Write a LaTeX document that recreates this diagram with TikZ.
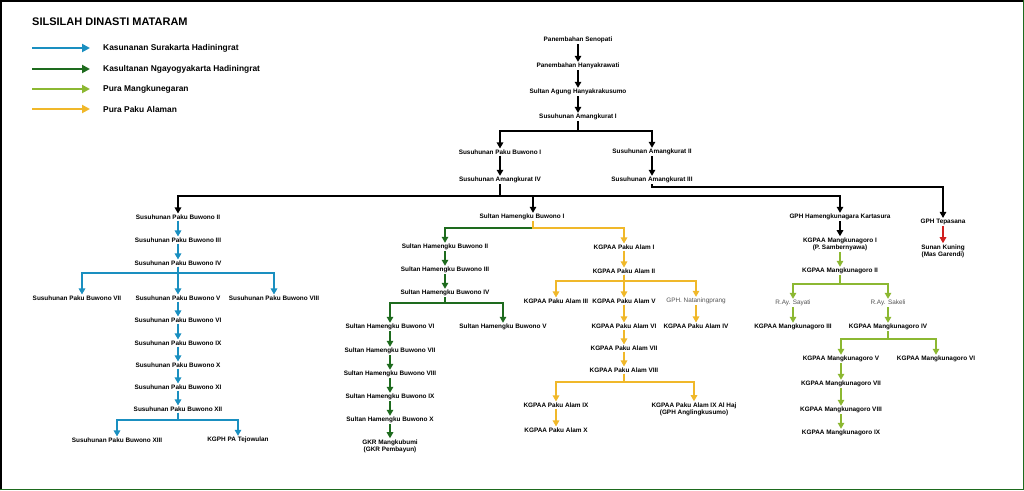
\documentclass[tikz,border=0pt]{standalone}
\usepackage{fontspec}
\setmainfont{Liberation Sans}
\usetikzlibrary{arrows.meta}
\definecolor{cblue}{HTML}{1A8FC0}
\definecolor{cdg}{HTML}{1E6B1E}
\definecolor{clg}{HTML}{8CB832}
\definecolor{cyl}{HTML}{F0B82A}
\definecolor{cred}{HTML}{D02020}
\definecolor{cgray}{HTML}{555555}
\begin{document}
\begin{tikzpicture}[x=1pt,y=-1pt,
  n/.style={font=\fontsize{6.4}{7.2}\selectfont\bfseries,align=center,inner sep=1pt},
  g/.style={font=\fontsize{6.4}{7.2}\selectfont,text=cgray,align=center,inner sep=1pt},
  ar/.style={line width=1.3pt,-{Triangle[width=6.5pt,length=6pt]}},
  bk/.style={ar,black}, bl/.style={ar,cblue}, dg/.style={ar,cdg}, lg/.style={ar,clg}, yl/.style={ar,cyl}, rd/.style={ar,cred},
  la/.style={line width=2pt,-{Triangle[width=8pt,length=8pt]}},
  lg0/.style={font=\fontsize{8.4}{9}\selectfont\bfseries,anchor=west,inner sep=0pt}]
\useasboundingbox (0,0) rectangle (1024,490);
\fill[white] (0,0) rectangle (1024,490);
\draw[black,line width=1.5pt] (0.75,490) -- (0.75,0.75) -- (1024,0.75);
\draw[cdg,line width=1.5pt] (1023.25,0) -- (1023.25,489.25) -- (0,489.25);
% legend
\node[font=\fontsize{11}{13}\selectfont\bfseries,anchor=west,inner sep=0pt] (title) at (32,22) {SILSILAH DINASTI MATARAM};
\coordinate (l1a) at (32,48); \coordinate (l1b) at (90,48);
\coordinate (l2a) at (32,69); \coordinate (l2b) at (90,69);
\coordinate (l3a) at (32,89); \coordinate (l3b) at (90,89);
\coordinate (l4a) at (32,109); \coordinate (l4b) at (90,109);
\draw[la,cblue] (l1a) -- (l1b); \draw[la,cdg] (l2a) -- (l2b); \draw[la,clg] (l3a) -- (l3b); \draw[la,cyl] (l4a) -- (l4b);
\node[lg0] (t1) at (103,48) {Kasunanan Surakarta Hadiningrat};
\node[lg0] (t2) at (103,69) {Kasultanan Ngayogyakarta Hadiningrat};
\node[lg0] (t3) at (103,89) {Pura Mangkunegaran};
\node[lg0] (t4) at (103,109) {Pura Paku Alaman};
% top
\node[n] (sen) at (578,40) {Panembahan Senopati};
\node[n] (han) at (578,66) {Panembahan Hanyakrawati};
\node[n] (sag) at (578,92) {Sultan Agung Hanyakrakusumo};
\node[n] (am1) at (578,117) {Susuhunan Amangkurat I};
\node[n] (pb1) at (500,152) {Susuhunan Paku Buwono I};
\node[n] (am2) at (652,152) {Susuhunan Amangkurat II};
\node[n] (am4) at (500,180) {Susuhunan Amangkurat IV};
\node[n] (am3) at (652,180) {Susuhunan Amangkurat III};
\draw[bk] (sen) -- (han); \draw[bk] (han) -- (sag); \draw[bk] (sag) -- (am1);
\draw[bk] (am1.south) -- (578,131) -| (pb1.north);
\draw[bk] (am1.south) -- (578,131) -| (am2.north);
\draw[bk] (pb1) -- (am4); \draw[bk] (am2) -- (am3);
% level
\node[n] (pb2) at (178,217) {Susuhunan Paku Buwono II};
\node[n] (hb1) at (522,217) {Sultan Hamengku Buwono I};
\node[n] (ghk) at (840,217) {GPH Hamengkunagara Kartasura};
\node[n] (tep) at (943,222) {GPH Tepasana};
\node[n] (sk) at (943,251) {Sunan Kuning\\(Mas Garendi)};
\draw[bk] (am4.south) -- (500,196) -| (pb2.north);
\draw[bk] (am4.south) -- (500,196) -| ([xshift=11pt]hb1.north);
\draw[bk] (am4.south) -- (500,196) -| (ghk.north);
\draw[bk] (am3.south) -- (652,187) -| (tep.north);
\draw[rd] (tep) -- (sk);
% Surakarta
\node[n] (pb3) at (178,240) {Susuhunan Paku Buwono III};
\node[n] (pb4) at (178,263) {Susuhunan Paku Buwono IV};
\node[n] (pb7) at (77,298) {Susuhunan Paku Buwono VII};
\node[n] (pb5) at (178,298) {Susuhunan Paku Buwono V};
\node[n] (pb8) at (274,298) {Susuhunan Paku Buwono VIII};
\node[n] (pb6) at (178,320) {Susuhunan Paku Buwono VI};
\node[n] (pb9) at (178,343) {Susuhunan Paku Buwono IX};
\node[n] (pb10) at (178,365) {Susuhunan Paku Buwono X};
\node[n] (pb11) at (178,387) {Susuhunan Paku Buwono XI};
\node[n] (pb12) at (178,409) {Susuhunan Paku Buwono XII};
\node[n] (pb13) at (117,440) {Susuhunan Paku Buwono XIII};
\node[n] (tej) at (238,440) {KGPH PA Tejowulan};
\draw[bl] (pb2) -- (pb3); \draw[bl] (pb3) -- (pb4);
\draw[bl] (pb4.south) -- (178,273) -| ([xshift=5pt]pb7.north);
\draw[bl] (pb4) -- (pb5);
\draw[bl] (pb4.south) -- (178,273) -| (pb8.north);
\draw[bl] (pb5) -- (pb6); \draw[bl] (pb6) -- (pb9); \draw[bl] (pb9) -- (pb10);
\draw[bl] (pb10) -- (pb11); \draw[bl] (pb11) -- (pb12);
\draw[bl] (pb12.south) -- (178,420) -| (pb13.north);
\draw[bl] (pb12.south) -- (178,420) -| (tej.north);
% Yogyakarta
\node[n] (hb2) at (445,247) {Sultan Hamengku Buwono II};
\node[n] (hb3) at (445,270) {Sultan Hamengku Buwono III};
\node[n] (hb4) at (445,293) {Sultan Hamengku Buwono IV};
\node[n] (hb6) at (390,327) {Sultan Hamengku Buwono VI};
\node[n] (hb5) at (503,327) {Sultan Hamengku Buwono V};
\node[n] (hb7) at (390,351) {Sultan Hamengku Buwono VII};
\node[n] (hb8) at (390,374) {Sultan Hamengku Buwono VIII};
\node[n] (hb9) at (390,397) {Sultan Hamengku Buwono IX};
\node[n] (hb10) at (390,420) {Sultan Hamengku Buwono X};
\node[n] (gkr) at (390,446) {GKR Mangkubumi\\(GKR Pembayun)};
\draw[dg] ([xshift=11pt]hb1.south) -- (533,228) -| (hb2.north);
\draw[dg] (hb2) -- (hb3); \draw[dg] (hb3) -- (hb4);
\draw[dg] (hb4.south) -- (445,303) -| (hb6.north);
\draw[dg] (hb4.south) -- (445,303) -| (hb5.north);
\draw[dg] (hb6) -- (hb7); \draw[dg] (hb7) -- (hb8); \draw[dg] (hb8) -- (hb9);
\draw[dg] (hb9) -- (hb10); \draw[dg] (hb10) -- (gkr);
% Paku Alaman
\node[n] (pa1) at (624,247) {KGPAA Paku Alam I};
\node[n] (pa2) at (624,271) {KGPAA Paku Alam II};
\node[n] (pa3) at (556,301) {KGPAA Paku Alam III};
\node[n] (pa5) at (624,301) {KGPAA Paku Alam V};
\node[g] (nat) at (696,301) {GPH. Nataningprang};
\node[n] (pa6) at (624,326) {KGPAA Paku Alam VI};
\node[n] (pa4) at (696,326) {KGPAA Paku Alam IV};
\node[n] (pa7) at (624,348) {KGPAA Paku Alam VII};
\node[n] (pa8) at (624,370) {KGPAA Paku Alam VIII};
\node[n] (pa9) at (556,405) {KGPAA Paku Alam IX};
\node[n] (pa9b) at (694,409) {KGPAA Paku Alam IX Al Haj\\(GPH Anglingkusumo)};
\node[n] (pa10) at (556,430) {KGPAA Paku Alam X};
\draw[yl] ([xshift=11pt]hb1.south) -- (533,228) -| (pa1.north);
\draw[yl] (pa1) -- (pa2);
\draw[yl] (pa2.south) -- (624,281) -| (pa3.north);
\draw[yl] (pa2) -- (pa5);
\draw[yl] (pa2.south) -- (624,281) -| (nat.north);
\draw[yl] (pa5) -- (pa6); \draw[yl] (nat) -- (pa4);
\draw[yl] (pa6) -- (pa7); \draw[yl] (pa7) -- (pa8);
\draw[yl] (pa8.south) -- (624,382) -| (pa9.north);
\draw[yl] (pa8.south) -- (624,382) -| (pa9b.north);
\draw[yl] (pa9) -- (pa10);
% Mangkunegaran
\node[n] (mn1) at (840,244) {KGPAA Mangkunagoro I\\(P. Sambernyawa)};
\node[n] (mn2) at (840,271) {KGPAA Mangkunagoro II};
\node[g] (say) at (793,303) {R.Ay. Sayati};
\node[g] (sak) at (888,303) {R.Ay. Sakeli};
\node[n] (mn3) at (793,327) {KGPAA Mangkunagoro III};
\node[n] (mn4) at (888,327) {KGPAA Mangkunagoro IV};
\node[n] (mn5) at (841,359) {KGPAA Mangkunagoro V};
\node[n] (mn6) at (936,359) {KGPAA Mangkunagoro VI};
\node[n] (mn7) at (841,384) {KGPAA Mangkunagoro VII};
\node[n] (mn8) at (841,410) {KGPAA Mangkunagoro VIII};
\node[n] (mn9) at (841,433) {KGPAA Mangkunagoro IX};
\draw[bk] (ghk) -- (mn1);
\draw[lg] (mn1) -- (mn2);
\draw[lg] (mn2.south) -- (840,284) -| (say.north);
\draw[lg] (mn2.south) -- (840,284) -| (sak.north);
\draw[lg] (say) -- (mn3); \draw[lg] (sak) -- (mn4);
\draw[lg] (mn4.south) -- (888,339) -| (mn5.north);
\draw[lg] (mn4.south) -- (888,339) -| (mn6.north);
\draw[lg] (mn5) -- (mn7); \draw[lg] (mn7) -- (mn8); \draw[lg] (mn8) -- (mn9);
\end{tikzpicture}
\end{document}
